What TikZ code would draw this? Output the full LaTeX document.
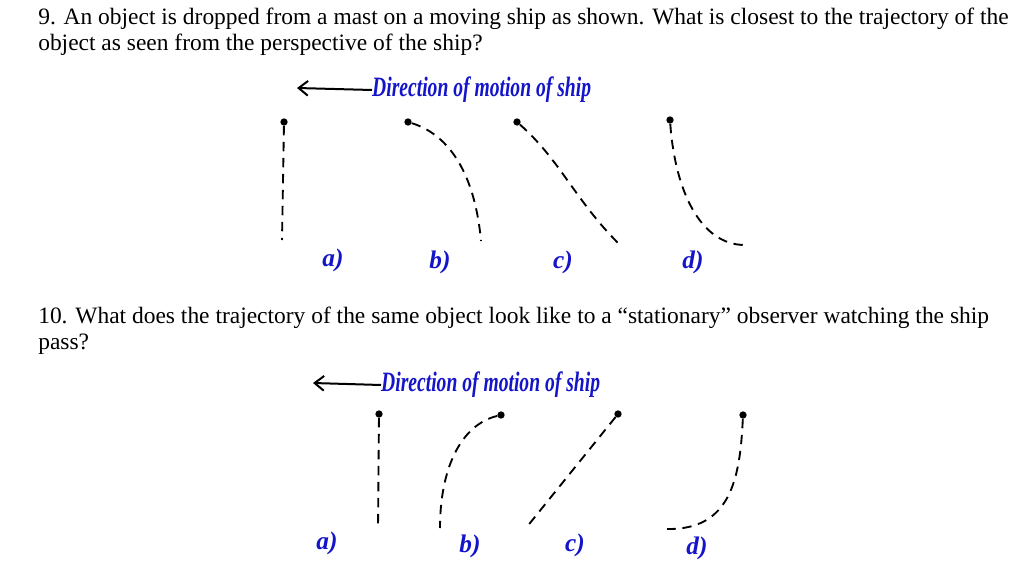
\documentclass[tikz,border=0pt]{standalone}
\usepackage{fontspec}
\setmainfont{Liberation Serif}
\usetikzlibrary{arrows.meta}
\definecolor{hand}{RGB}{20,20,200}
\begin{document}
\begin{tikzpicture}[x=0.75pt,y=-0.75pt,
  q/.style={anchor=west,inner sep=0,font=\fontsize{17.6}{20}\selectfont},
  traj/.style={dash pattern=on 7pt off 5pt,line width=1.4pt},
  dotn/.style={circle,fill=black,inner sep=0,minimum size=5.5pt},
  lab/.style={text=hand,font=\fontsize{19}{22}\selectfont\bfseries\itshape},
  dir/.style={text=hand,inner sep=0,anchor=west,font=\fontsize{21}{24}\selectfont\bfseries\itshape,xscale=0.7},
  arr/.style={-{Straight Barb[length=7pt,width=11pt]},line width=1.5pt}]
\useasboundingbox (0,0) rectangle (1024,570);
\node[q] (q9a) at (38,19) {9. An object is dropped from a mast on a moving ship as shown. What is closest to the trajectory of the};
\node[q] (q9b) at (38,45) {object as seen from the perspective of the ship?};
\node[q] (q10a) at (38,318) {10. What does the trajectory of the same object look like to a “stationary” observer watching the ship};
\node[q] (q10b) at (38,344) {pass?};
% top
\node[dir] (d1) at (372,90) {Direction of motion of ship};
\coordinate (a1) at (297,88);
\draw[arr] (d1.west) -- (a1);
\node[dotn] (ta) at (284,122) {}; \coordinate (tae) at (282,240);
\draw[traj] (ta) -- (tae);
\node[dotn] (tb) at (408,122) {}; \coordinate (tbe) at (481,241);
\draw[traj] (tb) .. controls (450,135) and (475,175) .. (tbe);
\node[dotn] (tc) at (517,122) {}; \coordinate (tce) at (619,244);
\draw[traj] (tc) .. controls (560,160) and (575,200) .. (tce);
\node[dotn] (td) at (670,120) {}; \coordinate (tde) at (745,245);
\draw[traj] (td) .. controls (675,190) and (700,245) .. (tde);
\node[lab] (la1) at (333,260) {a)};
\node[lab] (lb1) at (440,262) {b)};
\node[lab] (lc1) at (563,262) {c)};
\node[lab] (ld1) at (693,262) {d)};
% bottom
\node[dir] (d2) at (381,385) {Direction of motion of ship};
\coordinate (a2) at (313,383);
\draw[arr] (d2.west) -- (a2);
\node[dotn] (ba) at (379,414) {}; \coordinate (bae) at (378,528);
\draw[traj] (ba) -- (bae);
\node[dotn] (bb) at (501,415) {}; \coordinate (bbe) at (440,528);
\draw[traj] (bb) .. controls (460,425) and (440,470) .. (bbe);
\node[dotn] (bc) at (618,414) {}; \coordinate (bce) at (526,528);
\draw[traj] (bc) -- (bce);
\node[dotn] (bd) at (743,415) {}; \coordinate (bde) at (667,529);
\draw[traj] (bd) .. controls (740,480) and (730,530) .. (bde);
\node[lab] (la2) at (327,543) {a)};
\node[lab] (lb2) at (470,546) {b)};
\node[lab] (lc2) at (575,545) {c)};
\node[lab] (ld2) at (697,548) {d)};
\end{tikzpicture}
\end{document}
